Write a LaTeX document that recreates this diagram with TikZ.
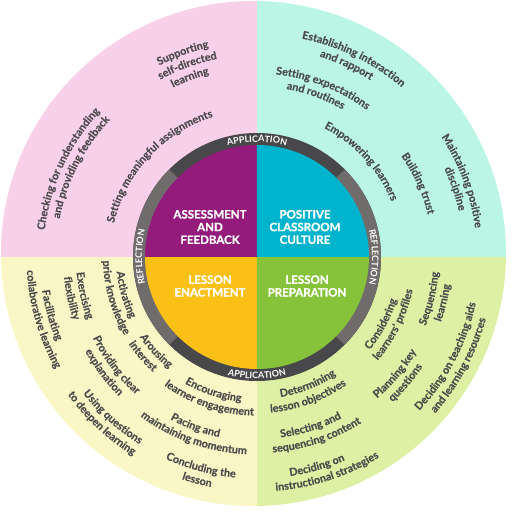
\documentclass[tikz,border=0pt]{standalone}
\usepackage{fontspec}
\setmainfont{Lato}
\newfontfamily\heavyfam{Lato}[BoldFeatures={FakeBold=1.2}]
\newfontfamily\outerfam{Lato}[BoldFeatures={FakeBold=0.4}]
\usetikzlibrary{decorations.text}
\definecolor{pinkq}{RGB}{249,208,234}
\definecolor{mintq}{RGB}{186,245,230}
\definecolor{yelq}{RGB}{250,246,198}
\definecolor{greenq}{RGB}{222,240,164}
\definecolor{cpurp}{RGB}{148,26,124}
\definecolor{cteal}{RGB}{0,180,206}
\definecolor{cyel}{RGB}{251,192,22}
\definecolor{cgreen}{RGB}{134,195,58}
\definecolor{ringdark}{RGB}{72,72,74}
\definecolor{ringlight}{RGB}{112,108,108}
\definecolor{txt}{RGB}{76,76,76}
\newcommand\otxt{\outerfam\bfseries\fontsize{10.8}{12}\selectfont}
\newcommand\rtxt{\bfseries\fontsize{9}{10}\selectfont}
\newcommand\uparc[3]{\path[decorate,decoration={text along path,text align=center,text color=txt,text={|\otxt|#3}}] ({#1+70}:#2) arc[start angle={#1+70},end angle={#1-70},radius=#2];}
\newcommand\dnarc[3]{\path[decorate,decoration={text along path,text align=center,text color=txt,text={|\otxt|#3}}] ({#1-70}:#2) arc[start angle={#1-70},end angle={#1+70},radius=#2];}
\tikzset{inlab/.style={text=white,font=\heavyfam\bfseries\fontsize{11.5}{12.7}\selectfont,align=center}}
\begin{document}
\begin{tikzpicture}[x=1pt,y=1pt]
\useasboundingbox (-257,-258) rectangle (257,257);
% outer quadrants
\begin{scope}
\clip (-3.5,3.5) circle[radius=252.5];
\fill[pinkq] (-260,0) rectangle (0,260);
\fill[mintq] (0,0) rectangle (260,260);
\fill[yelq] (-260,-260) rectangle (0,0);
\fill[greenq] (0,-260) rectangle (260,0);
\end{scope}
% ring
\fill[ringdark] (0,0) circle[radius=124];
\fill[ringlight] (0,0) -- (-45:124) arc[start angle=-45,end angle=45,radius=124] -- cycle;
\fill[ringlight] (0,0) -- (135:124) arc[start angle=135,end angle=225,radius=124] -- cycle;
% inner quadrants
\fill[cpurp] (0,0) -- (90:112) arc[start angle=90,end angle=180,radius=112] -- cycle;
\fill[cteal] (0,0) -- (0:112) arc[start angle=0,end angle=90,radius=112] -- cycle;
\fill[cyel] (0,0) -- (180:112) arc[start angle=180,end angle=270,radius=112] -- cycle;
\fill[cgreen] (0,0) -- (270:112) arc[start angle=270,end angle=360,radius=112] -- cycle;
\node[inlab] (af) at (-47,30) {ASSESSMENT\\AND\\FEEDBACK};
\node[inlab] (pc) at (48,30) {POSITIVE\\CLASSROOM\\CULTURE};
\node[inlab] (le) at (-47,-29) {LESSON\\ENACTMENT};
\node[inlab] (lp) at (50,-29) {LESSON\\PREPARATION};
% ring labels
\path[decorate,decoration={text along path,text align=center,text color=white,text={|\rtxt|APPLICATION}}] (160:115) arc[start angle=160,end angle=20,radius=115];
\path[decorate,decoration={text along path,text align=center,text color=white,text={|\rtxt|APPLICATION}}] (200:121.8) arc[start angle=200,end angle=340,radius=121.8];
\path[decorate,decoration={text along path,text align=center,text color=white,text={|\rtxt|REFLECTION}}] (250:115) arc[start angle=250,end angle=110,radius=115];
\path[decorate,decoration={text along path,text align=center,text color=white,text={|\rtxt|REFLECTION}}] (70:115) arc[start angle=70,end angle=-70,radius=115];
% top-left
\uparc{110}{215}{Supporting}
\uparc{110}{202}{self-directed}
\uparc{110.5}{189}{learning}
\uparc{137}{147}{Setting meaningful assignments}
\uparc{155}{214}{Checking for understanding}
\uparc{153}{201}{and providing feedback}
% top-right
\uparc{64}{223}{Establishing interaction}
\uparc{65}{210}{and rapport}
\uparc{68.7}{183.5}{Setting expectations}
\uparc{70}{170.5}{and routines}
\uparc{42.5}{145.5}{Empowering learners}
\uparc{24.5}{176}{Building trust}
\uparc{20.3}{220}{Maintaining positive}
\uparc{19}{207}{discipline}
% bottom-left
\dnarc{196}{141}{Activating}
\dnarc{196}{154}{prior knowledge}
\dnarc{192.6}{181}{Exercising}
\dnarc{192.5}{194}{flexibility}
\dnarc{195.8}{217.5}{Facilitating}
\dnarc{196.2}{230.5}{collaborative learning}
\dnarc{223}{142}{Arousing}
\dnarc{221}{155}{interest}
\dnarc{217.5}{183}{Providing clear}
\dnarc{217}{196}{explanation}
\dnarc{228}{221}{Using questions}
\dnarc{227}{234}{to deepen learning}
\dnarc{252}{145.5}{Encouraging}
\dnarc{251.5}{158.5}{learner engagement}
\dnarc{250}{184}{Pacing and}
\dnarc{250.4}{197.5}{maintaining momentum}
\dnarc{255}{221.5}{Concluding the}
\dnarc{255}{234.5}{lesson}
% bottom-right
\dnarc{291.7}{142}{Determining}
\dnarc{290}{156}{lesson objectives}
\dnarc{287.6}{182}{Selecting and}
\dnarc{288.4}{196}{sequencing content}
\dnarc{286}{221.5}{Deciding on}
\dnarc{288}{234.5}{instructional strategies}
\dnarc{331.7}{146}{Considering}
\dnarc{333.7}{159}{learners' profiles}
\dnarc{319.8}{185.5}{Planning key}
\dnarc{319.8}{198.5}{questions}
\dnarc{346.5}{182}{Sequencing}
\dnarc{346.2}{195}{learning}
\dnarc{332.3}{223.5}{Deciding on teaching aids}
\dnarc{331.8}{237}{and learning resources}
\end{tikzpicture}
\end{document}
